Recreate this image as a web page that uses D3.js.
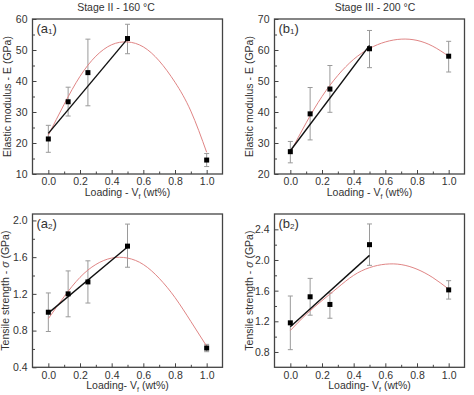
<!DOCTYPE html>
<html><head><meta charset="utf-8">
<script src="https://cdn.jsdelivr.net/npm/d3@7/dist/d3.min.js"></script>
<style>
body{margin:0;background:#fff;}
text{font-family:"Liberation Sans",Arial,sans-serif;fill:#333;}
</style></head>
<body><svg id="c" width="474" height="395"></svg>
<script>
// ---- data ----
const loading = [0, 0.125, 0.25, 0.5, 1.0];
const a1Mean = [21.3, 33.3, 42.7, 53.7, 14.5];
const a1Lo   = [17.0, 28.7, 32.0, 48.8, 12.4];
const a1Hi   = [25.7, 38.0, 53.5, 58.3, 16.6];
const b1Mean = [27.2, 39.4, 47.4, 60.4, 58.0];
const b1Lo   = [23.6, 31.0, 39.9, 54.3, 52.9];
const b1Hi   = [30.5, 47.9, 55.0, 66.3, 62.8];
const a2Mean = [1.00, 1.20, 1.33, 1.72, 0.61];
const a2Lo   = [0.79, 0.95, 1.10, 1.49, 0.57];
const a2Hi   = [1.21, 1.45, 1.56, 1.96, 0.65];
const b2Mean = [1.18, 1.52, 1.42, 2.20, 1.61];
const b2Lo   = [0.83, 1.28, 1.24, 1.93, 1.49];
const b2Hi   = [1.53, 1.76, 1.57, 2.47, 1.73];
// linear fits (0 -> 0.5)
const linX = [0, 0.5];
const a1Lin = [23.1, 53.6];
const b1Lin = [27.5, 61.5];
const a2Lin = [0.99, 1.71];
const b2Lin = [1.13, 2.06];
// polynomial fit curves (sampled)
const fitX  = [0, 0.1, 0.2, 0.3, 0.4, 0.5, 0.6, 0.7, 0.8, 0.9, 1.0];
const a1Fit = [22.5, 32.5, 41.5, 48.0, 51.7, 52.6, 51.0, 46.5, 39.6, 30.3, 17.0];
const b1Fit = [27.0, 36.5, 45.0, 51.8, 57.0, 60.5, 62.6, 63.5, 63.1, 61.2, 58.0];
const a2Fit = [0.93, 1.17, 1.38, 1.52, 1.59, 1.59, 1.52, 1.37, 1.16, 0.90, 0.63];
const b2Fit = [1.08, 1.29, 1.47, 1.64, 1.80, 1.90, 1.945, 1.94, 1.88, 1.77, 1.62];
// ticks
const xTicks = [0, 0.2, 0.4, 0.6, 0.8, 1.0];
const xMinor = [0.1, 0.3, 0.5, 0.7, 0.9];
const a1Ticks = [10, 20, 30, 40, 50, 60];
const b1Ticks = [20, 30, 40, 50, 60, 70];
const a2Ticks = [0.4, 0.8, 1.2, 1.6, 2.0];
const b2Ticks = [0.8, 1.2, 1.6, 2.0, 2.4];
const titles = ["Stage II - 160 \u00B0C", "Stage III - 200 \u00B0C"];

const svg = d3.select("#c");

function panel(o){
  const x = d3.scaleLinear().domain([-0.1, 1.1]).range([o.l, o.r]);
  const y = d3.scaleLinear().domain(o.yd).range([o.b, o.t]);
  const g = svg.append("g");
  const axc = "#444";
  // error bars
  const eb = g.append("g").attr("stroke","#9a9a9a").attr("stroke-width",1);
  loading.forEach((v,i)=>{
    eb.append("line").attr("x1",x(v)).attr("x2",x(v)).attr("y1",y(o.lo[i])).attr("y2",y(o.hi[i]));
    [o.lo[i],o.hi[i]].forEach(e=>eb.append("line").attr("x1",x(v)-2.5).attr("x2",x(v)+2.5).attr("y1",y(e)).attr("y2",y(e)));
  });
  // red fit
  g.append("path").datum(fitX.map((v,i)=>[v,o.fit[i]]))
    .attr("d", d3.line().x(d=>x(d[0])).y(d=>y(d[1])).curve(d3.curveNatural))
    .attr("fill","none").attr("stroke","#e08585").attr("stroke-width",1);
  // black linear fit
  g.append("path").datum(linX.map((v,i)=>[v,o.lin[i]]))
    .attr("d", d3.line().x(d=>x(d[0])).y(d=>y(d[1])))
    .attr("fill","none").attr("stroke","#111").attr("stroke-width",1.4);
  // markers
  g.selectAll("rect.m").data(loading).enter().append("rect")
    .attr("x",(d)=>x(d)-2.5).attr("y",(d,i)=>y(o.mean[i])-2.5).attr("width",5).attr("height",5).attr("fill","#000");
  // frame
  g.append("rect").attr("x",o.l).attr("y",o.t).attr("width",o.r-o.l).attr("height",o.b-o.t)
    .attr("fill","none").attr("stroke",axc).attr("stroke-width",1.3);
  // x ticks (inward)
  const xa = d3.axisBottom(x).tickValues(xTicks).tickSize(-4).tickPadding(4).tickFormat(d3.format(".1f"));
  const gx = g.append("g").attr("transform",`translate(0,${o.b})`).call(xa);
  const xm = d3.axisBottom(x).tickValues(xMinor).tickSize(-2.5).tickFormat("");
  const gxm = g.append("g").attr("transform",`translate(0,${o.b})`).call(xm);
  const ya = d3.axisLeft(y).tickValues(o.yt).tickSize(-4).tickPadding(5).tickFormat(o.fmt);
  const gy = g.append("g").attr("transform",`translate(${o.l},0)`).call(ya);
  const ym = d3.axisLeft(y).tickValues(o.ym).tickSize(-2.5).tickFormat("");
  const gym = g.append("g").attr("transform",`translate(${o.l},0)`).call(ym);
  [gx,gxm,gy,gym].forEach(a=>{a.select(".domain").remove(); a.selectAll("line").attr("stroke",axc).attr("stroke-width",1);
    a.selectAll("text").attr("font-size",10.5).attr("fill","#333").style("font-family","Liberation Sans, Arial, sans-serif");});
  // x title
  const xt = g.append("text").attr("x",(o.l+o.r)/2).attr("y",o.b+22).attr("text-anchor","middle").attr("font-size",10.5);
  xt.append("tspan").text(o.xlab);
  xt.append("tspan").attr("font-size",7).attr("dy",2.5).text("f");
  xt.append("tspan").attr("dy",-2.5).text(" (wt%)");
  // y title
  const yt = g.append("text").attr("transform",`translate(${o.yx},${(o.t+o.b)/2}) rotate(-90)`).attr("text-anchor","middle").attr("font-size",10.5);
  yt.append("tspan").text(o.ylab1);
  yt.append("tspan").attr("font-style",o.ital?"italic":"normal").text(o.ysym);
  yt.append("tspan").text(" (GPa)");
  // panel label
  const pl = g.append("text").attr("x",o.l+4).attr("y",o.t+14).attr("font-size",13);
  pl.append("tspan").text("("+o.pl);
  pl.append("tspan").attr("font-size",8).attr("dy",1).text(o.sub);
  pl.append("tspan").attr("dy",-1).text(")");
}

const tops = [19, 214], bots = [174, 367.3];
panel({l:32.5,r:222.5,t:tops[0],b:bots[0],yd:[10,60],yt:a1Ticks,ym:[15,25,35,45,55],fmt:d3.format("d"),
  mean:a1Mean,lo:a1Lo,hi:a1Hi,fit:a1Fit,lin:a1Lin,xlab:"Loading - V",ylab1:"Elastic modulus - ",ysym:"E",ital:false,yx:11,pl:"a",sub:"1"});
panel({l:274.5,r:464.5,t:tops[0],b:bots[0],yd:[20,70],yt:b1Ticks,ym:[25,35,45,55,65],fmt:d3.format("d"),
  mean:b1Mean,lo:b1Lo,hi:b1Hi,fit:b1Fit,lin:b1Lin,xlab:"Loading - V",ylab1:"Elastic modulus - ",ysym:"E",ital:false,yx:253,pl:"b",sub:"1"});
panel({l:32.5,r:222.5,t:tops[1],b:bots[1],yd:[0.4,2.07],yt:a2Ticks,ym:[0.6,1.0,1.4,1.8],fmt:d3.format(".1f"),
  mean:a2Mean,lo:a2Lo,hi:a2Hi,fit:a2Fit,lin:a2Lin,xlab:"Loading- V",ylab1:"Tensile strength - ",ysym:"\u03C3",ital:true,yx:9,pl:"a",sub:"2"});
panel({l:274.5,r:464.5,t:tops[1],b:bots[1],yd:[0.6,2.6],yt:b2Ticks,ym:[1.0,1.4,1.8,2.2],fmt:d3.format(".1f"),
  mean:b2Mean,lo:b2Lo,hi:b2Hi,fit:b2Fit,lin:b2Lin,xlab:"Loading- V",ylab1:"Tensile strength - ",ysym:"\u03C3",ital:true,yx:253,pl:"b",sub:"2"});

svg.append("text").attr("x",116).attr("y",11).attr("text-anchor","middle").attr("font-size",10.5).text(titles[0]);
svg.append("text").attr("x",375).attr("y",11).attr("text-anchor","middle").attr("font-size",10.5).text(titles[1]);
</script></body></html>
